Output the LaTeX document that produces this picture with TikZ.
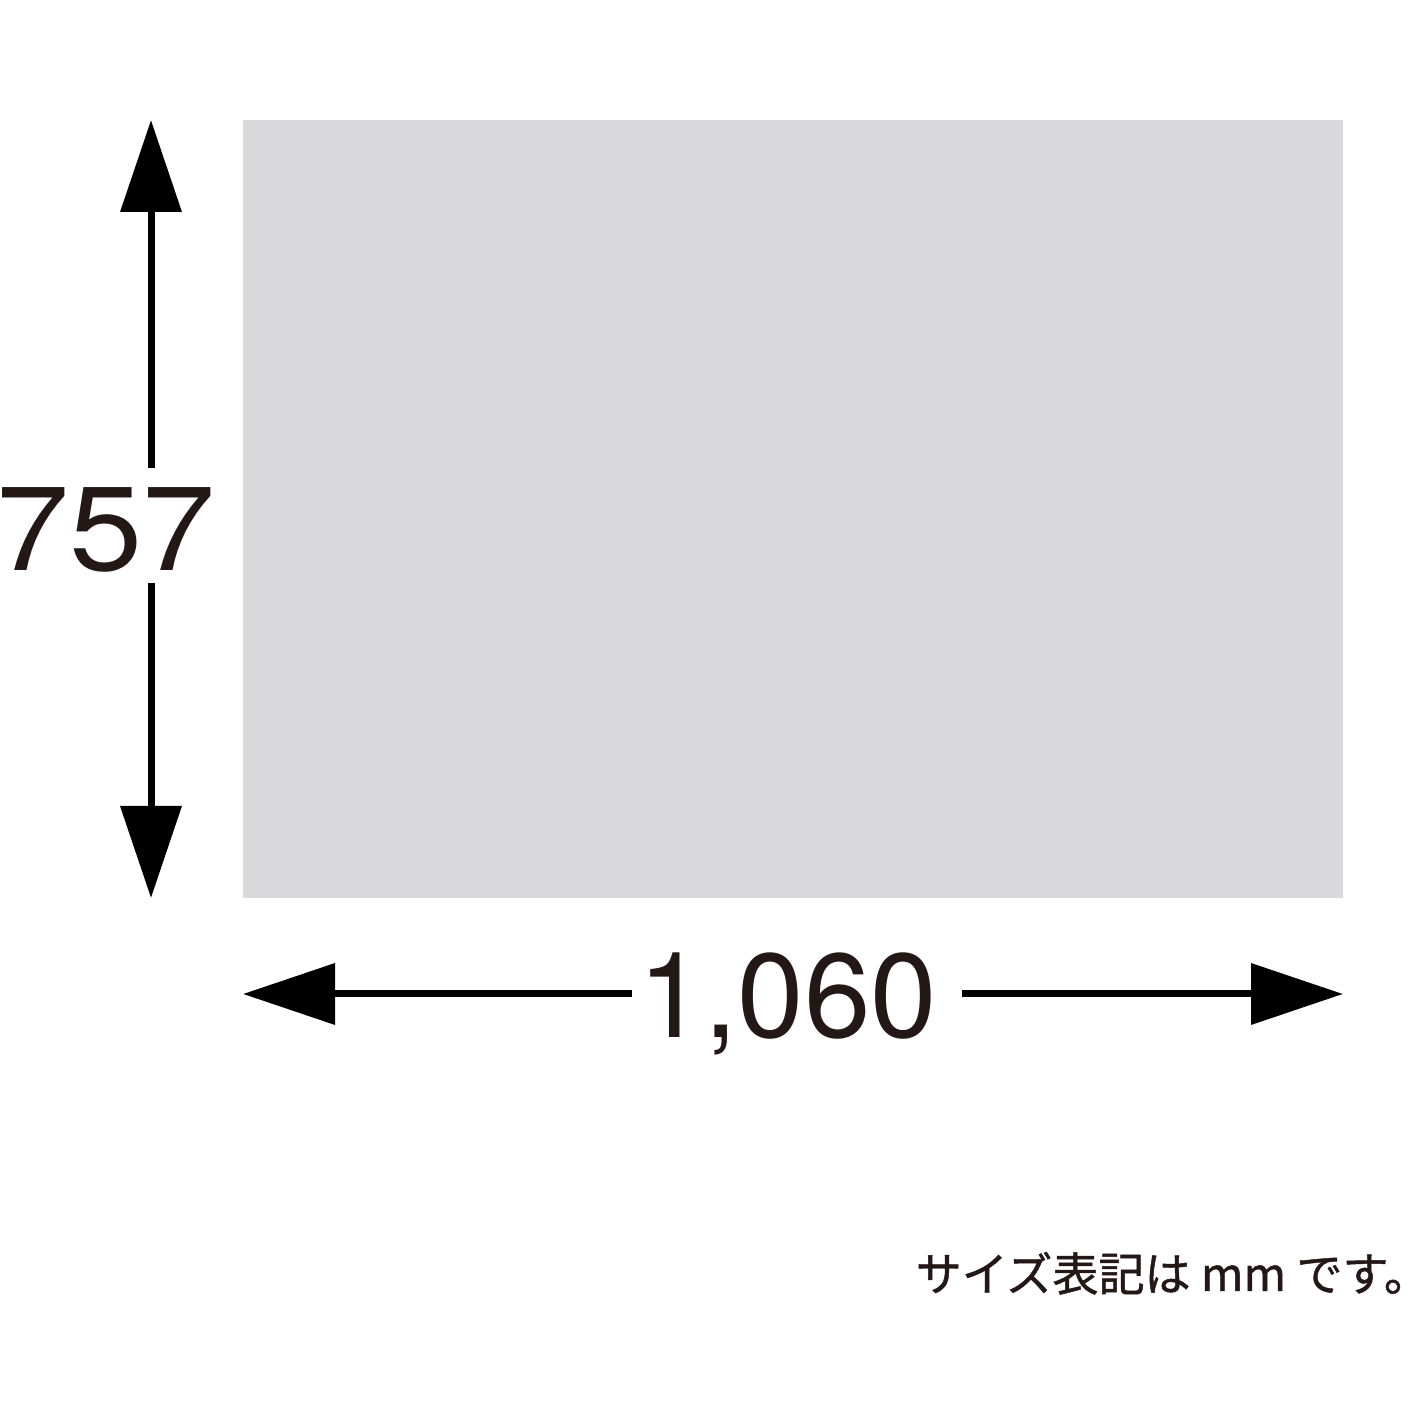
\documentclass[tikz,border=0pt]{standalone}
\usepackage{fontspec}
\setmainfont{TeX Gyre Heros}
\newfontfamily\widefont[FakeStretch=1.1]{TeX Gyre Heros}
\newfontfamily\cjk[FakeBold=1]{Noto Sans CJK JP}
\usetikzlibrary{arrows.meta}
\definecolor{panel}{RGB}{217,217,219}
\definecolor{ink}{RGB}{35,24,21}
\tikzset{
  dimline/.style={line width=.07cm, -{Triangle[length=.92cm,width=.6cm]}},
  dimtext/.style={inner sep=0, text=ink, anchor=base, font=\fontsize{34}{34}\selectfont}
}
\begin{document}
\begin{tikzpicture}
\useasboundingbox (0,0) rectangle (14.08,14.08);
\fill[panel] (2.43,5.10) rectangle (13.43,12.88);
% height
\coordinate (htop) at (1.51,12.88);
\coordinate (hbot) at (1.51,5.10);
\coordinate (hgapa) at (1.51,9.40);
\coordinate (hgapb) at (1.51,8.25);
\node[dimtext, font=\widefont\fontsize{34}{34}\selectfont] (height) at (1.06,8.37) {757};
\draw[dimline] (hgapa) -- (htop);
\draw[dimline] (hgapb) -- (hbot);
% width
\coordinate (wleft) at (2.43,4.14);
\coordinate (wright) at (13.43,4.14);
\coordinate (wgapa) at (6.32,4.14);
\coordinate (wgapb) at (9.62,4.14);
\node[dimtext] (width) at (7.875,3.70) {1,060};
\draw[dimline] (wgapa) -- (wleft);
\draw[dimline] (wgapb) -- (wright);
\node[anchor=base west, inner sep=0, text=ink, font=\cjk\fontsize{13.1}{14}\selectfont] (unit) at (9.15,1.17) {サイズ表記は mm です。};
\end{tikzpicture}
\end{document}
